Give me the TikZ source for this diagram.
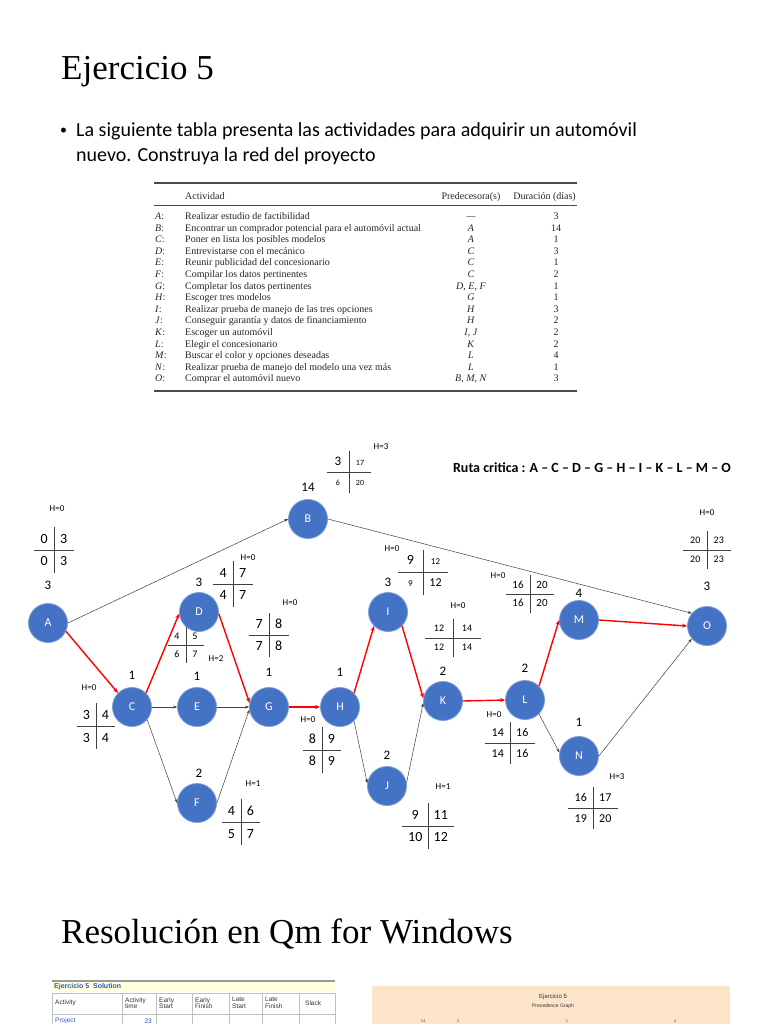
\documentclass[tikz,border=0pt]{standalone}
\usepackage{fontspec}
\setmainfont{Liberation Serif}
\newfontfamily\calibri{Carlito}
\newfontfamily\arial{Liberation Sans}
\usepackage{xcolor}
\usepackage{tikz}
\usetikzlibrary{matrix, positioning, arrows.meta}
\definecolor{actblue}{RGB}{68,114,196}
\definecolor{critred}{RGB}{255,0,0}
\definecolor{qmblue}{RGB}{40,90,200}
\definecolor{qmyellow}{RGB}{255,255,221}
\definecolor{qmpeach}{RGB}{252,228,200}
\newcommand{\fs}[1]{\fontsize{#1}{#1}\selectfont}

\begin{document}
\begin{tikzpicture}[x=1pt, y=-1pt, every node/.style={inner sep=1pt},
  act/.style={circle, fill=actblue, draw=actblue!70!white, line width=0.8pt,
    minimum size=39pt, inner sep=0pt, text=white, font=\calibri\fs{12}},
  dur/.style={font=\calibri\fs{13}},
  hol/.style={font=\calibri\fs{9}},
  cruz/.style n args={3}{matrix of nodes, inner sep=0pt,
    nodes={inner sep=0pt, minimum width=#1, minimum height=#2, font=\calibri\fs{#3}}},
  cruzl/.style={black!75, line width=0.9pt},
  crit/.style={-{Stealth[length=5pt, width=4pt]}, critred, line width=1.4pt},
  arrow/.style={-{Stealth[length=4pt, width=3pt]}, black!75, line width=0.5pt},
  tab/.style={font=\fs{10}, text=black!85, inner sep=0pt},
  qm/.style={font=\arial\fs{6.5}, text=black!80, inner sep=0pt, align=left}]
\fill[white] (0,0) rectangle (768,1024);
\useasboundingbox (0,0) rectangle (768,1024);

\node[anchor=base west, font=\fs{35}] (titulo) at (60,80) {Ejercicio 5};
\node[anchor=base west, font=\calibri\fs{14}] (bala) at (59,135) {•};
\node[anchor=base west, font=\calibri\fs{20}] (enun1) at (75,137)
  {La siguiente tabla presenta las actividades para adquirir un automóvil};
\node[anchor=base west, font=\calibri\fs{20}] (enun2) at (75,162)
  {nuevo. Construya la red del proyecto};

\draw[black!70, line width=1.4pt] (154,183) -- (577,183);
\draw[black!70, line width=0.6pt] (154,205) -- (577,205);
\draw[black!70, line width=1.4pt] (154,391) -- (577,391);
\node[tab, anchor=base west] (hact) at (185,199.5) {Actividad};
\node[tab, anchor=base] (hpre) at (471,199.5) {Predecesora(s)};
\node[tab, anchor=base east] (hdur) at (576,199.5) {Duración (días)};
\foreach \l/\t/\p/\d [count=\i] in {
  A/Realizar estudio de factibilidad/—/3,
  B/Encontrar un comprador potencial para el automóvil actual/A/14,
  C/Poner en lista los posibles modelos/A/1,
  D/Entrevistarse con el mecánico/C/3,
  E/Reunir publicidad del concesionario/C/1,
  F/Compilar los datos pertinentes/C/2,
  G/Completar los datos pertinentes/{D, E, F}/1,
  H/Escoger tres modelos/G/1,
  I/Realizar prueba de manejo de las tres opciones/H/3,
  J/Conseguir garantía y datos de financiamiento/H/2,
  K/Escoger un automóvil/{I, J}/2,
  L/Elegir el concesionario/K/2,
  M/Buscar el color y opciones deseadas/L/4,
  N/Realizar prueba de manejo del modelo una vez más/L/1,
  O/Comprar el automóvil nuevo/{B, M, N}/3} {
  \node[tab, anchor=base west] (tl\i) at (155,{219.5+(\i-1)*11.6}) {\textit{\l}:};
  \node[tab, anchor=base west] (tt\i) at (185,{219.5+(\i-1)*11.6}) {\t};
  \node[tab, anchor=base] (tp\i) at (471,{219.5+(\i-1)*11.6}) {\textit{\p}};
  \node[tab, anchor=base] (td\i) at (556,{219.5+(\i-1)*11.6}) {\d};
}

\node[font=\calibri\bfseries\fs{14}] (ruta) at (592,468)
  {Ruta critica : A – C – D – G – H – I – K – L – M – O};

\node[act] (A) at (48,623) {A};
\node[act] (B) at (308,519) {B};
\node[act] (C) at (132,707) {C};
\node[act] (D) at (199,612) {D};
\node[act] (E) at (197,707) {E};
\node[act] (F) at (197,803) {F};
\node[act] (G) at (269,707) {G};
\node[act] (H) at (340,707) {H};
\node[act] (I) at (388,612) {I};
\node[act] (J) at (387,786) {J};
\node[act] (K) at (443,701) {K};
\node[act] (L) at (525,700) {L};
\node[act] (M) at (579,620) {M};
\node[act] (N) at (579,756) {N};
\node[act] (O) at (707,626) {O};

\node[dur, above=12pt of A] (dA) {3};
\node[dur, above=6pt of B] (dB) {14};
\node[dur, above=6pt of C] (dC) {1};
\node[dur, above=4pt of D] (dD) {3};
\node[dur, above=5pt of E] (dE) {1};
\node[dur, above=4pt of F, xshift=2pt] (dF) {2};
\node[dur, above=9pt of G] (dG) {1};
\node[dur, above=9pt of H] (dH) {1};
\node[dur, above=4pt of I] (dI) {3};
\node[dur, above=5pt of J] (dJ) {2};
\node[dur, above=4pt of K] (dK) {2};
\node[dur, above=6pt of L] (dL) {2};
\node[dur, above=1pt of M] (dM) {4};
\node[dur, above=8pt of N] (dN) {1};
\node[dur, above=14pt of O] (dO) {3};

\draw[arrow] (A.east) -- (B.west);
\draw[arrow] (B.east) -- (O.140);
\draw[crit] (A.-25) -- (C.135);
\draw[crit] (C.45) -- (D.185);
\draw[arrow] (C.east) -- (E.west);
\draw[arrow] (C.-40) -- (F.west);
\draw[crit] (D.-5) -- (G.168);
\draw[arrow] (E.east) -- (G.west);
\draw[arrow] (F.east) -- (G.188);
\draw[crit] (G.east) -- (H.west);
\draw[crit] (H.45) -- (I.-135);
\draw[arrow] (H.-45) -- (J.172);
\draw[crit] (I.-45) -- (K.172);
\draw[arrow] (J.10) -- (K.186);
\draw[crit] (K.east) -- (L.west);
\draw[crit] (L.45) -- (M.180);
\draw[arrow] (L.-45) -- (N.170);
\draw[crit] (M.east) -- (O.west);
\draw[arrow] (N.east) -- (O.-140);

\matrix (xA) [cruz={19.5pt}{22.5pt}{14}] at (54,550) {0 & 3\\ 0 & 3\\};
\matrix (xB) [cruz={22pt}{20pt}{8}] at (349,472)
  {|[font=\calibri\fs{13}]| 3 & 17\\ 6 & 20\\};
\matrix (xC) [cruz={19pt}{23pt}{14}] at (96,726) {3 & 4\\ 3 & 4\\};
\matrix (xD) [cruz={19.5pt}{22.5pt}{14}] at (233,584) {4 & 7\\ 4 & 7\\};
\matrix (xE) [cruz={18pt}{18pt}{10}] at (186,645) {4 & 5\\ 6 & 7\\};
\matrix (xG) [cruz={19.5pt}{21.5pt}{14}] at (269,635) {7 & 8\\ 7 & 8\\};
\matrix (xH) [cruz={19pt}{22.5pt}{14}] at (322,750) {8 & 9\\ 8 & 9\\};
\matrix (xF) [cruz={19pt}{23pt}{14}] at (241,822) {4 & 6\\ 5 & 7\\};
\matrix (xI) [cruz={25pt}{21pt}{9}] at (423,572)
  {|[font=\calibri\fs{14}]| 9 & 12\\ 9 & |[font=\calibri\fs{12}]| 12\\};
\matrix (xJ) [cruz={25.5pt}{22.5pt}{14}] at (428,826) {9 & 11\\ 10 & 12\\};
\matrix (xK) [cruz={28pt}{18.5pt}{10}] at (453,638) {12 & 14\\ 12 & 14\\};
\matrix (xL) [cruz={24.5pt}{20.5pt}{12}] at (510,743) {14 & 16\\ 14 & 16\\};
\matrix (xM) [cruz={24pt}{18.5pt}{11}] at (530,594) {16 & 20\\ 16 & 20\\};
\matrix (xN) [cruz={24.5pt}{20.5pt}{12}] at (593,808) {16 & 17\\ 19 & 20\\};
\matrix (xO) [cruz={23.5pt}{19pt}{10}] at (707,550) {20 & 23\\ 20 & 23\\};
\foreach \m in {xA, xB, xC, xD, xE, xG, xH, xF, xI, xJ, xK, xL, xM, xN, xO}
  \draw[cruzl] (\m.west) -- (\m.east) (\m.north) -- (\m.south);

\node[hol] (hA) at (57,509) {H=0};
\node[hol] (hB) at (381,447) {H=3};
\node[hol] (hC) at (89,688) {H=0};
\node[hol] (hD) at (248,558) {H=0};
\node[hol] (hE) at (216,659) {H=2};
\node[hol] (hG) at (290,603) {H=0};
\node[hol] (hH) at (308,720) {H=0};
\node[hol] (hF) at (253,784) {H=1};
\node[hol] (hI) at (392,549) {H=0};
\node[hol] (hJ) at (443,787) {H=1};
\node[hol] (hK) at (458,606) {H=0};
\node[hol] (hL) at (494,715) {H=0};
\node[hol] (hM) at (498,576) {H=0};
\node[hol] (hN) at (617,777) {H=3};
\node[hol] (hO) at (707,513) {H=0};

\node[anchor=base west, font=\fs{35}] (resol) at (60,943) {Resolución en Qm for Windows};

\fill[qmyellow] (52,982) rectangle (335,992);
\draw[black!40, line width=1.5pt] (52,981) -- (335,981);
\node[anchor=west, font=\arial\bfseries\fs{7}, text=qmblue, inner sep=0pt] (qmtit) at (54,987)
  {Ejercicio 5\ \ Solution};
\draw[black!25] (52,993) -- (335,993) (52,1014) -- (335,1014);
\foreach \x in {52, 122, 156, 192, 229, 262, 299, 335}
  \draw[black!25] (\x,993) -- (\x,1024);
\foreach \x/\t [count=\j] in {55/Activity, 125/{Activity\\time}, 159/{Early\\Start},
  195/{Early\\Finish}, 232/{Late\\Start}, 265/{Late\\Finish}, 305/Slack}
  \node[qm, anchor=west] (qh\j) at (\x,1003) {\t};
\node[qm, anchor=west, text=qmblue] (qproj) at (55,1021) {Project};
\node[qm, anchor=east, text=qmblue] (qtot) at (152,1021) {23};

\fill[qmpeach] (372,986) rectangle (730,1024);
\node[font=\arial\fs{6}, text=black!80] (qg1) at (553,997) {Ejercicio 5};
\node[font=\arial\fs{5}, text=black!80] (qg2) at (553,1006) {Precedence Graph};
\foreach \x/\v in {423/14, 458/3, 567/1, 675/4}
  \node[font=\arial\fs{4}, text=black!70] (qn\x) at (\x,1021) {\v};
\end{tikzpicture}
\end{document}
